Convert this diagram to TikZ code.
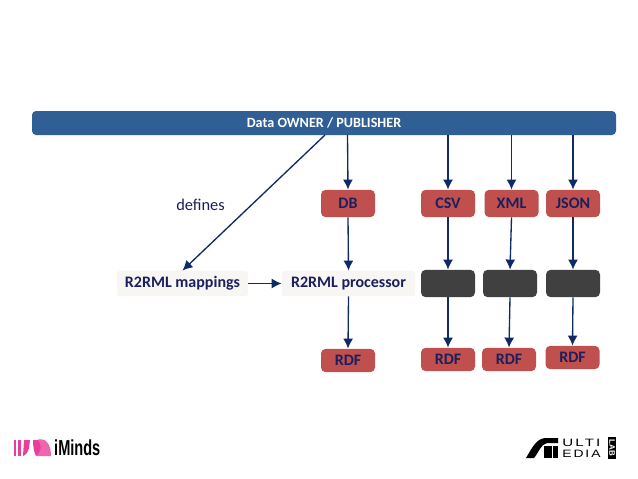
\documentclass[tikz,border=0pt]{standalone}
\usepackage{fontspec}
\setmainfont{Carlito}
\newfontfamily\logofont{Liberation Sans}
\newfontfamily\logospaced[LetterSpace=14]{Liberation Sans}
\usetikzlibrary{arrows.meta}
\definecolor{navytxt}{HTML}{1B1F5E}
\definecolor{arrowc}{HTML}{0F2A66}
\definecolor{barc}{HTML}{2F5F95}
\definecolor{redc}{HTML}{C0504D}
\definecolor{darkc}{HTML}{404040}
\definecolor{lightc}{HTML}{F8F6F3}
\definecolor{pinkc}{HTML}{E8409A}
\tikzset{
  conn/.style={draw=arrowc,line width=1pt,-{Latex[length=7.5pt,width=7.5pt]}},
  redbox/.style={fill=redc,rounded corners=3.5pt,minimum width=40.5pt,minimum height=20.5pt,inner sep=0pt,text=navytxt,font=\fontsize{12}{13}\selectfont\bfseries},
  rdfbox/.style={redbox,minimum height=17.5pt},
  darkbox/.style={fill=darkc,rounded corners=3.5pt,minimum width=40.5pt,minimum height=20.5pt,inner sep=0pt},
  lightbox/.style={fill=lightc,rounded corners=2pt,minimum height=19pt,inner sep=0pt,text=navytxt,font=\fontsize{12}{13}\selectfont\bfseries},
}
\begin{document}
\begin{tikzpicture}[x=0.75pt,y=-0.75pt]
\useasboundingbox (0,0) rectangle (638,478);
\fill[white] (0,0) rectangle (638,478);
\node[fill=barc,rounded corners=3pt,minimum width=438pt,minimum height=18pt,inner sep=0pt,text=white,font=\fontsize{10.6}{12}\selectfont\bfseries] (bar) at (324,123) {Data OWNER / PUBLISHER};
\node[redbox] (db) at (348,203.5) {DB};
\node[redbox] (csv) at (448,203.5) {CSV};
\node[redbox] (xml) at (511.5,203.5) {XML};
\node[redbox] (json) at (573,203.5) {JSON};
\node[lightbox,minimum width=98pt] (map) at (182.5,283.5) {R2RML mappings};
\node[lightbox,minimum width=100pt] (proc) at (348.5,283.5) {R2RML processor};
\node[darkbox] (p1) at (448,283.5) {};
\node[darkbox] (p2) at (510,283.5) {};
\node[darkbox] (p3) at (573,283.5) {};
\node[rdfbox] (r0) at (348,360.5) {RDF};
\node[rdfbox] (r1) at (448,359.5) {RDF};
\node[rdfbox] (r2) at (509,359.5) {RDF};
\node[rdfbox] (r3) at (572.5,357.5) {RDF};
\node[text=navytxt,font=\fontsize{12.3}{13}\selectfont] (def) at (200.5,204.5) {defines};
\coordinate (s0) at (325,135);
\coordinate (s1) at (347.5,135);
\coordinate (s2) at (448,135);
\coordinate (s3) at (511.5,135);
\coordinate (s4) at (573,135);
\draw[conn] (s0) -- (map.north);
\draw[conn] (s1) -- (db.north);
\draw[conn] (s2) -- (csv.north);
\draw[conn] (s3) -- (xml.north);
\draw[conn] (s4) -- (json.north);
\draw[conn] (db.south) -- (proc.north);
\draw[conn] (csv.south) -- (p1.north);
\draw[conn] (xml.south) -- (p2.north);
\draw[conn] (json.south) -- (p3.north);
\draw[conn] (map.east) -- (proc.west);
\draw[conn] (proc.south) -- (r0.north);
\draw[conn] (p1.south) -- (r1.north);
\draw[conn] (p2.south) -- (r2.north);
\draw[conn] (p3.south) -- (r3.north);
% iMinds logo
\fill[pinkc] (14,440) rectangle (16,456);
\fill[pinkc] (18,440) rectangle (21,456);
\fill[pinkc] (24,440) -- (30,440) -- (29,448) .. controls (28,452) and (26,455) .. (23,456) -- cycle;
\fill[pinkc] (33,440) -- (45,440) -- (44,447) .. controls (43,452) and (40,455) .. (36,456) .. controls (34,452) and (33,447) .. (33,440) -- cycle;
\fill[pinkc!80] (38,439.5) .. controls (45,438) and (51,443) .. (51,456) -- (36,456) .. controls (42,452) and (42,445) .. (38,439.5) -- cycle;
\node[anchor=west,inner sep=0pt,font=\logofont\bfseries\fontsize{13}{14}\selectfont,xscale=0.84,yscale=1.25] (im) at (54,448) {iMinds};
% Multimedia lab logo
\fill[black] (526,458) .. controls (532,448) and (536,439) .. (545,438) -- (558,438) -- (558,443) -- (547,443) .. controls (541,444) and (539,452) .. (534,458) -- cycle;
\fill[black] (544,446) -- (552,446) -- (552,458) -- (544,458) -- cycle;
\fill[black] (553,446) -- (558,446) -- (558,458) -- (553,458) -- cycle;
\node[anchor=west,inner sep=0pt,font=\logospaced\fontsize{8}{9}\selectfont,xscale=1.42] (ulti) at (562,443) {ULTI};
\node[anchor=west,inner sep=0pt,font=\logospaced\fontsize{8}{9}\selectfont,xscale=1.3] (edia) at (562,453.5) {EDIA};
\fill[black] (608,437) rectangle (616,459);
\node[rotate=-90,inner sep=0pt,text=white,font=\logofont\bfseries\fontsize{6}{7}\selectfont] (lab) at (612,448) {LAB};
\end{tikzpicture}
\end{document}
